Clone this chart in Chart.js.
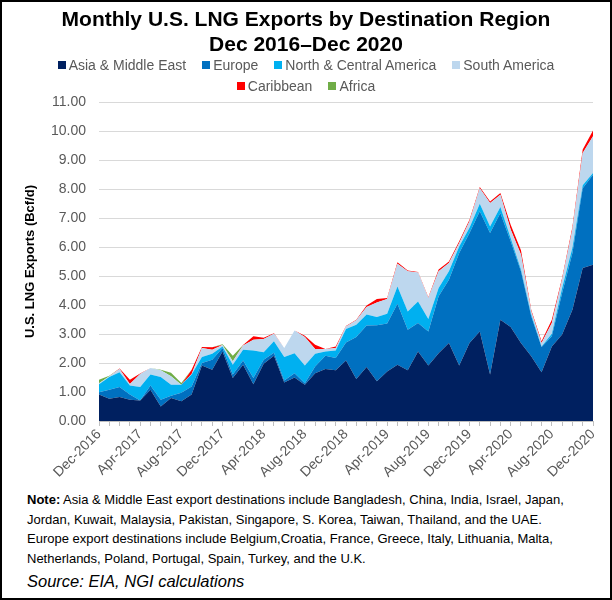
<!DOCTYPE html>
<html>
<head>
<meta charset="utf-8">
<script src="https://cdn.jsdelivr.net/npm/chart.js@4/dist/chart.umd.min.js"></script>
<style>
  body { margin: 0; background: #fff; font-family: 'Liberation Sans', Arial, sans-serif; }
  #page { position: relative; width: 612px; height: 600px; overflow: hidden; background: #fff; }
  #frame { position: absolute; left: 0; top: 0; right: 0; bottom: 0; border: 2px solid #000; pointer-events: none; }
  #title { position: absolute; left: 0; width: 612px; top: 6px; text-align: center; font-weight: bold; font-size: 21px; line-height: 25px; color: #000; }
  #legend { position: absolute; left: 0; width: 612px; top: 55px; text-align: center; font-size: 14px; line-height: 21px; color: #595959; }
  #legend .item { display: inline-block; margin: 0 8px; white-space: nowrap; }
  #legend .box { display: inline-block; width: 8px; height: 8px; margin-right: 3px; vertical-align: 1px; }
  #chartWrap { position: absolute; left: 0; top: 0; width: 612px; height: 490px; }
  #note { position: absolute; left: 27px; top: 490px; font-size: 13px; line-height: 19.7px; color: #000; white-space: nowrap; }
  #source { position: absolute; left: 27px; top: 572px; font-size: 16.5px; font-style: italic; color: #000; }
</style>
</head>
<body>
<div id="page">
  <div id="chartWrap"><canvas id="chart"></canvas></div>
  <div id="title">Monthly U.S. LNG Exports by Destination Region<br>Dec 2016&ndash;Dec 2020</div>
  <div id="legend"></div>
  <div id="note"><b>Note:</b> Asia &amp; Middle East export destinations include Bangladesh, China, India, Israel, Japan,<br>Jordan, Kuwait, Malaysia, Pakistan, Singapore, S. Korea, Taiwan, Thailand, and the UAE.<br>Europe export destinations include Belgium,Croatia, France, Greece, Italy, Lithuania, Malta,<br>Netherlands, Poland, Portugal, Spain, Turkey, and the U.K.</div>
  <div id="source">Source: EIA, NGI calculations</div>
  <div id="frame"></div>
</div>
<script>
// Months, Dec-2016 .. Dec-2020
const months = [
  'Dec-2016',
  'Jan-2017', 'Feb-2017', 'Mar-2017', 'Apr-2017', 'May-2017', 'Jun-2017', 'Jul-2017', 'Aug-2017', 'Sep-2017', 'Oct-2017', 'Nov-2017', 'Dec-2017',
  'Jan-2018', 'Feb-2018', 'Mar-2018', 'Apr-2018', 'May-2018', 'Jun-2018', 'Jul-2018', 'Aug-2018', 'Sep-2018', 'Oct-2018', 'Nov-2018', 'Dec-2018',
  'Jan-2019', 'Feb-2019', 'Mar-2019', 'Apr-2019', 'May-2019', 'Jun-2019', 'Jul-2019', 'Aug-2019', 'Sep-2019', 'Oct-2019', 'Nov-2019', 'Dec-2019',
  'Jan-2020', 'Feb-2020', 'Mar-2020', 'Apr-2020', 'May-2020', 'Jun-2020', 'Jul-2020', 'Aug-2020', 'Sep-2020', 'Oct-2020', 'Nov-2020', 'Dec-2020'
];

const seriesNames = ['Asia & Middle East', 'Europe', 'North & Central America', 'South America', 'Caribbean', 'Africa'];
const seriesColors = ['#002060', '#0070C0', '#00B0F0', '#BDD7EE', '#FF0000', '#70AD47'];

// Bcf/d
const asiaME = [
  0.91, 0.77, 0.83, 0.73, 0.71, 1.08, 0.50, 0.79, 0.68, 0.91, 1.91, 1.77, 2.40,
  1.48, 1.94, 1.27, 1.97, 2.25, 1.33, 1.50, 1.25, 1.65, 1.79, 1.75, 2.09,
  1.45, 1.86, 1.37, 1.71, 1.94, 1.75, 2.40, 1.91, 2.34, 2.69, 1.91, 2.69,
  3.09, 1.60, 3.49, 3.24, 2.69, 2.23, 1.68, 2.57, 2.98, 3.84, 5.28, 5.39
];
const europe = [
  0.08, 0.31, 0.34, 0.18, 0.00, 0.14, 0.23, 0.08, 0.29, 0.28, 0.09, 0.34, 0.12,
  0.12, 0.15, 0.21, 0.14, 0.10, 0.07, 0.15, 0.05, 0.23, 0.46, 0.42, 0.62,
  1.45, 1.43, 1.93, 1.65, 2.10, 1.40, 0.98, 1.18, 1.96, 2.18, 3.88, 3.79,
  4.14, 4.88, 3.68, 2.96, 2.47, 1.38, 0.87, 0.35, 1.43, 1.95, 2.75, 3.10
];
const ncAmerica = [
  0.28, 0.44, 0.51, 0.31, 0.46, 0.38, 0.79, 0.38, 0.28, 0.41, 0.21, 0.21, 0.05,
  0.34, 0.37, 0.95, 0.26, 0.40, 0.81, 0.69, 0.61, 0.44, 0.15, 0.26, 0.46,
  0.42, 0.38, 0.29, 0.34, 0.60, 0.63, 0.74, 0.43, 0.29, 0.29, 0.23, 0.18,
  0.26, 0.23, 0.21, 0.11, 0.06, 0.06, 0.02, 0.09, 0.18, 0.18, 0.10, 0.06
];
const sAmerica = [
  0.03, 0.02, 0.11, 0.06, 0.45, 0.23, 0.23, 0.29, 0.00, 0.02, 0.31, 0.14, 0.05,
  0.12, 0.14, 0.37, 0.46, 0.26, 0.31, 0.78, 0.99, 0.16, 0.08, 0.09, 0.09,
  0.15, 0.26, 0.50, 0.51, 0.78, 1.38, 1.00, 0.72, 0.57, 0.29, 0.12, 0.23,
  0.54, 0.81, 0.42, 0.29, 0.52, 0.11, 0.12, 0.37, 0.28, 0.63, 1.11, 1.27
];
const caribbean = [
  0.00, 0.00, 0.02, 0.14, 0.02, 0.00, 0.00, 0.00, 0.00, 0.15, 0.03, 0.08, 0.00,
  0.00, 0.02, 0.12, 0.04, 0.02, 0.00, 0.00, 0.04, 0.15, 0.00, 0.05, 0.02,
  0.02, 0.05, 0.12, 0.03, 0.05, 0.03, 0.02, 0.03, 0.06, 0.05, 0.06, 0.05,
  0.04, 0.05, 0.06, 0.17, 0.15, 0.05, 0.06, 0.11, 0.06, 0.09, 0.12, 0.20
];
const africa = [
  0.12, 0.02, 0.00, 0.00, 0.00, 0.00, 0.02, 0.12, 0.06, 0.00, 0.00, 0.00, 0.03,
  0.19, 0.00, 0.00, 0.00, 0.00, 0.00, 0.00, 0.00, 0.00, 0.00, 0.00, 0.00,
  0.00, 0.00, 0.00, 0.00, 0.00, 0.00, 0.00, 0.00, 0.00, 0.00, 0.00, 0.00,
  0.00, 0.00, 0.00, 0.00, 0.00, 0.00, 0.00, 0.00, 0.00, 0.00, 0.00, 0.00
];
const seriesData = [asiaME, europe, ncAmerica, sAmerica, caribbean, africa];

const yMax = 11;
const yStep = 1;

// legend (two rows, as in the original)
const legendRows = [[0, 1, 2, 3], [4, 5]];
document.getElementById('legend').innerHTML = legendRows.map(row =>
  '<div>' + row.map(i =>
    `<span class="item"><span class="box" style="background:${seriesColors[i]}"></span>${seriesNames[i].replace('&', '&amp;')}</span>`
  ).join('') + '</div>'
).join('');

const FONT = "'Liberation Sans', Arial, sans-serif";

new Chart(document.getElementById('chart'), {
  type: 'line',
  data: {
    labels: months,
    datasets: seriesData.map((d, i) => ({
      label: seriesNames[i],
      data: d,
      backgroundColor: seriesColors[i],
      borderColor: 'rgba(0,0,0,0)',
      borderWidth: 0,
      fill: i === 0 ? 'origin' : '-1',
      pointRadius: 0,
      tension: 0
    }))
  },
  options: {
    responsive: true,
    maintainAspectRatio: false,
    animation: false,
    layout: { padding: { top: 102, right: 19, left: 0, bottom: 0 } },
    plugins: {
      legend: { display: false },
      title: { display: false },
      tooltip: { enabled: false }
    },
    scales: {
      x: {
        offset: false,
        grid: { display: true, drawOnChartArea: false, drawTicks: true, tickLength: 5, tickColor: '#BFBFBF' },
        border: { display: true, color: '#BFBFBF' },
        ticks: {
          autoSkip: false,
          maxRotation: 45,
          minRotation: 45,
          padding: 0,
          color: '#595959',
          font: { family: FONT, size: 14 },
          callback: function (value, index) {
            return index % 4 === 0 ? months[index] : '';
          }
        },
        afterFit: scale => { scale.height = 69; }
      },
      y: {
        stacked: true,
        min: 0,
        max: yMax,
        grid: { color: '#D9D9D9', drawTicks: false },
        border: { display: false },
        ticks: {
          stepSize: yStep,
          padding: 13,
          color: '#595959',
          font: { family: FONT, size: 14 },
          callback: v => v.toFixed(2)
        },
        title: {
          display: true,
          text: 'U.S. LNG Exports (Bcf/d)',
          color: '#000',
          font: { family: FONT, size: 13, weight: 'bold' },
          padding: { top: 23, bottom: 0 }
        },
        afterFit: scale => { scale.width = 99; }
      }
    }
  }
});
</script>
</body>
</html>
